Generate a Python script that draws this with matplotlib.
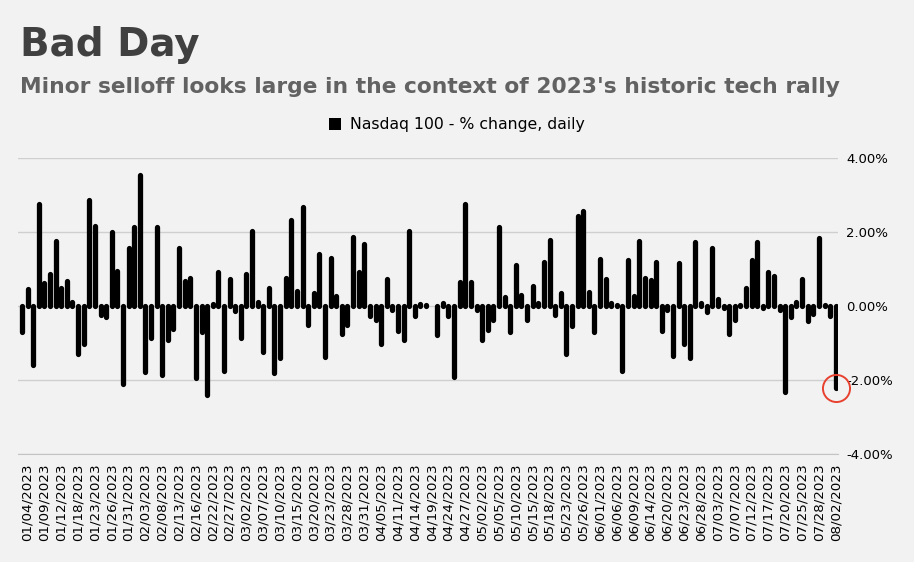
import numpy as np
import matplotlib
matplotlib.use("Agg")
import matplotlib.pyplot as plt
from matplotlib.patches import Patch

# =========================
# 1. Data
# =========================
pct_change = [
    -0.69, 0.45, -1.59, 2.76, 0.61, 0.86, 1.76, 0.48, 0.68, 0.12,
    -1.30, -1.04, 2.86, 2.17, -0.23, -0.29, 2.01, 0.95, -2.11, 1.58,
    2.14, 3.54, -1.79, -0.87, 2.13, -1.86, -0.92, -0.63, 1.58, 0.68,
    0.75, -1.94, -0.69, -2.41, 0.05, 0.93, -1.75, 0.72, -0.13, -0.87,
    0.86, 2.04, 0.10, -1.25, 0.50, -1.82, -1.40, 0.77, 2.32, 0.41,
    2.68, -0.51, 0.34, 1.41, -1.39, 1.29, 0.28, -0.77, -0.50, 1.86,
    0.91, 1.68, -0.26, -0.38, -1.04, 0.72, -0.11, -0.67, -0.92, 2.03,
    -0.26, 0.05, 0.02, 0.01, -0.78, 0.09, -0.26, -1.91, 0.64, 2.75,
    0.64, -0.11, -0.92, -0.65, -0.38, 2.13, 0.23, -0.69, 1.11, 0.30,
    -0.38, 0.54, 0.07, 1.20, 1.78, -0.23, 0.34, -1.31, -0.53, 2.44,
    2.57, 0.39, -0.71, 1.27, 0.72, 0.07, 0.03, -1.77, 1.24, 0.27,
    1.76, 0.77, 0.70, 1.20, -0.68, -0.11, -1.35, 1.17, -1.04, -1.40,
    1.74, 0.09, -0.15, 1.58, 0.18, -0.06, -0.77, -0.38, 0.03, 0.48,
    1.23, 1.72, -0.06, 0.93, 0.81, -0.11, -2.32, -0.29, 0.12, 0.72,
    -0.40, -0.22, 1.85, 0.03, -0.26, -2.21,
]

# every third trading day is labelled, starting with the 2nd one
tick_labels = [
    "01/04/2023", "01/09/2023", "01/12/2023", "01/18/2023", "01/23/2023",
    "01/26/2023", "01/31/2023", "02/03/2023", "02/08/2023", "02/13/2023",
    "02/16/2023", "02/22/2023", "02/27/2023", "03/02/2023", "03/07/2023",
    "03/10/2023", "03/15/2023", "03/20/2023", "03/23/2023", "03/28/2023",
    "03/31/2023", "04/05/2023", "04/11/2023", "04/14/2023", "04/19/2023",
    "04/24/2023", "04/27/2023", "05/02/2023", "05/05/2023", "05/10/2023",
    "05/15/2023", "05/18/2023", "05/23/2023", "05/26/2023", "06/01/2023",
    "06/06/2023", "06/09/2023", "06/14/2023", "06/20/2023", "06/23/2023",
    "06/28/2023", "07/03/2023", "07/07/2023", "07/12/2023", "07/17/2023",
    "07/20/2023", "07/25/2023", "07/28/2023", "08/02/2023",
]

y_ticks = [4, 2, 0, -2, -4]

# =========================
# 2. Plot
# =========================
bg = "#f2f2f2"
fig = plt.figure(figsize=(9.14, 5.62), dpi=100, facecolor=bg)
ax = fig.add_axes([18 / 914, 108 / 562, 820 / 914, 296 / 562], facecolor=bg)

x = np.arange(len(pct_change))
# rounded bars, like the original
ax.vlines(x, 0, pct_change, colors="black", linewidth=3.8,
          capstyle="round", zorder=3)

# highlight the last day
ax.plot(x[-1], pct_change[-1], "o", ms=19.5, mfc="none", mec="#e8412f",
        mew=1.4, zorder=4, clip_on=False)

ax.set_xlim(-0.7, len(pct_change) - 0.6)
ax.set_ylim(-4, 4)
ax.set_yticks(y_ticks)
ax.set_yticklabels([f"{v:.2f}%" for v in y_ticks], fontsize=9.5)
ax.yaxis.tick_right()
ax.tick_params(axis="y", length=0, pad=6)
ax.grid(axis="y", color="#cfcfcf", linewidth=1, zorder=0)

ax.set_xticks(np.arange(1, len(pct_change), 3))
ax.set_xticklabels(tick_labels, rotation=90, fontsize=9.7)
ax.tick_params(axis="x", length=0, pad=7)

for side in ["top", "right", "left"]:
    ax.spines[side].set_visible(False)
ax.spines["bottom"].set_color("#c4c4c4")

# =========================
# 3. Titles & legend
# =========================
fig.text(20 / 914, 1 - 56 / 562, "Bad Day", fontsize=28, weight="bold",
         color="#404040", va="baseline")
fig.text(20 / 914, 1 - 93 / 562,
         "Minor selloff looks large in the context of 2023's historic tech rally",
         fontsize=15.7, weight="bold", color="#626262", va="baseline")

fig.legend(handles=[Patch(facecolor="black", label="Nasdaq 100 - % change, daily")],
           loc="center", bbox_to_anchor=(457 / 914, 1 - 125 / 562),
           frameon=False, fontsize=11.3, handlelength=0.75, handleheight=0.85,
           handletextpad=0.6)

plt.savefig("out.png", dpi=100, facecolor=bg)
print("Saved out.png")
